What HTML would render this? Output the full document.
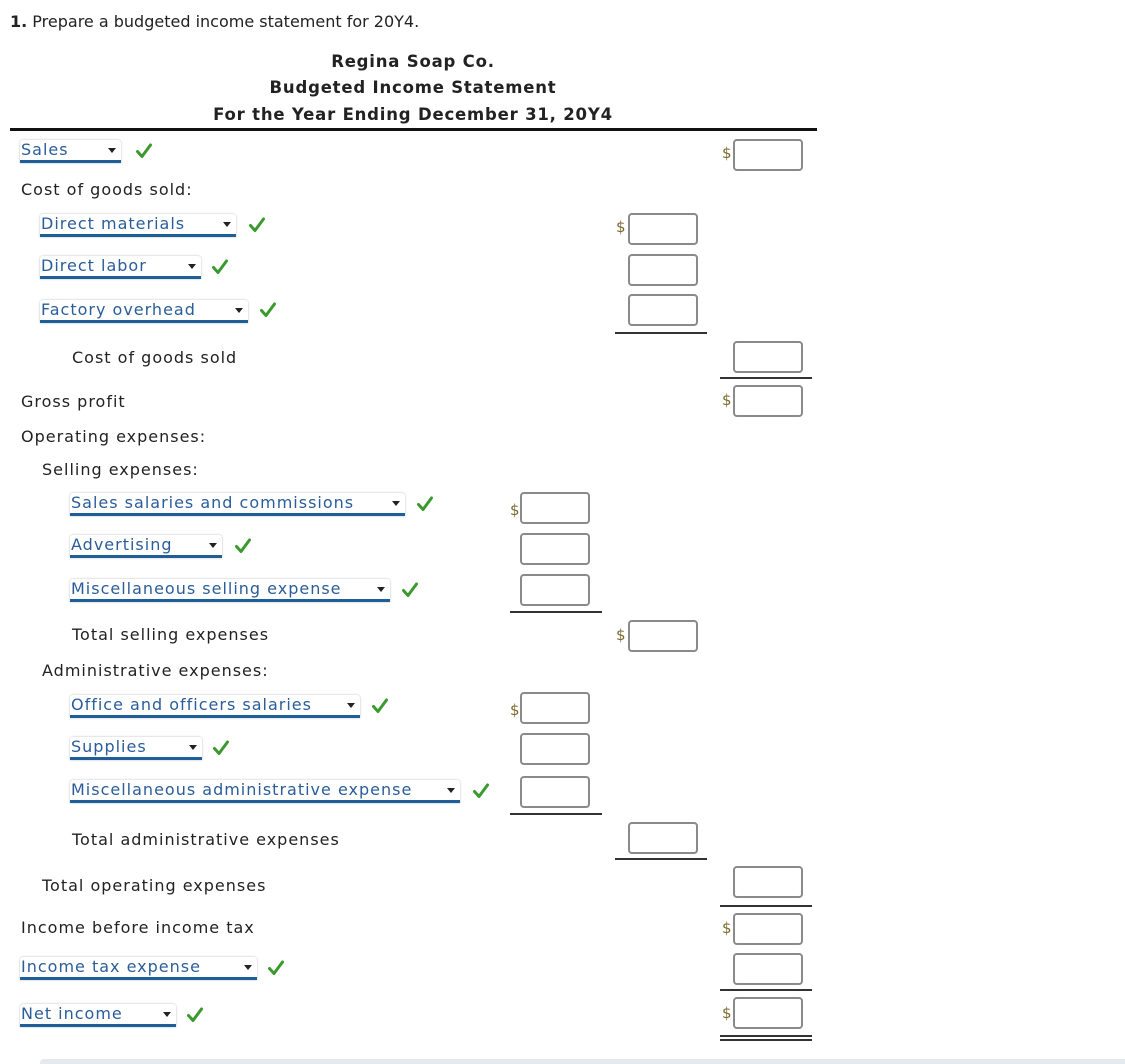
<!DOCTYPE html>
<html><head><meta charset="utf-8"><style>
body{margin:0;width:1125px;height:1064px;background:#fff;position:relative;overflow:hidden;font-family:"DejaVu Sans","Liberation Sans",sans-serif;font-size:16px;color:#222}
.a{position:absolute;white-space:nowrap;line-height:20px;letter-spacing:1px}
.h{position:absolute;left:0;width:826px;text-align:center;font-weight:bold;font-size:16.5px;line-height:20px;letter-spacing:0.8px}
.dd{position:absolute;height:20px;border-bottom:3px solid #1f5f98;border-radius:3px 3px 0 0;box-shadow:0 0 2px #bbb;color:#2a5d99;line-height:20px;white-space:nowrap;padding-left:1px;letter-spacing:1px}
.dd:after{content:"";position:absolute;right:5px;top:8px;border-left:4px solid transparent;border-right:4px solid transparent;border-top:5px solid #222}
.ck{position:absolute;width:16px;height:16px}
.b{position:absolute;width:66px;height:28px;border:2px solid #8a8a8a;border-radius:4px;background:#fff}
.d{position:absolute;font-size:15px;color:#7a6a30;line-height:20px}
.l{position:absolute;height:2px;background:#333}
</style></head><body>
<svg width="0" height="0" style="position:absolute"><defs><symbol id="c" viewBox="0 0 16 16"><path d="M1.5 8.5 L6 13.5 L14.5 2" fill="none" stroke="#3a9a2e" stroke-width="3" stroke-linecap="round" stroke-linejoin="round"/></symbol></defs></svg>
<div class="a" style="left:10px;top:12px;font-size:16px;letter-spacing:0"><b>1.</b> Prepare a budgeted income statement for 20Y4.</div>
<div class="h" style="top:52px">Regina Soap Co.</div>
<div class="h" style="top:78px">Budgeted Income Statement</div>
<div class="h" style="top:105px">For the Year Ending December 31, 20Y4</div>
<div class="l" style="left:10px;top:128px;width:807px;height:3px;background:#111"></div>

<div class="dd" style="left:20px;top:140px;width:100px">Sales</div><svg class="ck" style="left:136px;top:143px"><use href="#c"/></svg>
<div class="d" style="left:722px;top:143px">$</div><div class="b" style="left:733px;top:139px"></div>

<div class="a" style="left:21px;top:180px">Cost of goods sold:</div>
<div class="dd" style="left:40px;top:214px;width:195px">Direct materials</div><svg class="ck" style="left:249px;top:217px"><use href="#c"/></svg>
<div class="d" style="left:616px;top:217px">$</div><div class="b" style="left:628px;top:213px"></div>
<div class="dd" style="left:40px;top:256px;width:160px">Direct labor</div><svg class="ck" style="left:212px;top:259px"><use href="#c"/></svg>
<div class="b" style="left:628px;top:254px"></div>
<div class="dd" style="left:40px;top:300px;width:207px">Factory overhead</div><svg class="ck" style="left:260px;top:302px"><use href="#c"/></svg>
<div class="b" style="left:628px;top:294px"></div>
<div class="l" style="left:615px;top:332px;width:92px"></div>

<div class="a" style="left:72px;top:348px">Cost of goods sold</div>
<div class="b" style="left:733px;top:341px"></div>
<div class="l" style="left:720px;top:377px;width:92px"></div>
<div class="a" style="left:21px;top:392px">Gross profit</div>
<div class="d" style="left:722px;top:390px">$</div><div class="b" style="left:733px;top:385px"></div>
<div class="a" style="left:21px;top:427px">Operating expenses:</div>
<div class="a" style="left:42px;top:460px">Selling expenses:</div>

<div class="dd" style="left:70px;top:493px;width:334px">Sales salaries and commissions</div><svg class="ck" style="left:417px;top:496px"><use href="#c"/></svg>
<div class="d" style="left:510px;top:500px">$</div><div class="b" style="left:520px;top:492px"></div>
<div class="dd" style="left:70px;top:535px;width:151px">Advertising</div><svg class="ck" style="left:235px;top:538px"><use href="#c"/></svg>
<div class="b" style="left:520px;top:533px"></div>
<div class="dd" style="left:70px;top:579px;width:319px">Miscellaneous selling expense</div><svg class="ck" style="left:402px;top:582px"><use href="#c"/></svg>
<div class="b" style="left:520px;top:574px"></div>
<div class="l" style="left:510px;top:611px;width:92px"></div>
<div class="a" style="left:72px;top:625px">Total selling expenses</div>
<div class="d" style="left:616px;top:625px">$</div><div class="b" style="left:628px;top:620px"></div>
<div class="a" style="left:42px;top:661px">Administrative expenses:</div>

<div class="dd" style="left:70px;top:695px;width:289px">Office and officers salaries</div><svg class="ck" style="left:372px;top:698px"><use href="#c"/></svg>
<div class="d" style="left:510px;top:700px">$</div><div class="b" style="left:520px;top:692px"></div>
<div class="dd" style="left:70px;top:737px;width:131px">Supplies</div><svg class="ck" style="left:213px;top:740px"><use href="#c"/></svg>
<div class="b" style="left:520px;top:733px"></div>
<div class="dd" style="left:70px;top:780px;width:389px">Miscellaneous administrative expense</div><svg class="ck" style="left:473px;top:783px"><use href="#c"/></svg>
<div class="b" style="left:520px;top:776px"></div>
<div class="l" style="left:510px;top:813px;width:92px"></div>
<div class="a" style="left:72px;top:830px">Total administrative expenses</div>
<div class="b" style="left:628px;top:822px"></div>
<div class="l" style="left:615px;top:858px;width:92px"></div>
<div class="a" style="left:42px;top:876px">Total operating expenses</div>
<div class="b" style="left:733px;top:866px"></div>
<div class="l" style="left:720px;top:905px;width:92px"></div>
<div class="a" style="left:21px;top:918px">Income before income tax</div>
<div class="d" style="left:722px;top:918px">$</div><div class="b" style="left:733px;top:913px"></div>
<div class="dd" style="left:20px;top:957px;width:236px">Income tax expense</div><svg class="ck" style="left:268px;top:960px"><use href="#c"/></svg>
<div class="b" style="left:733px;top:953px"></div>
<div class="l" style="left:720px;top:989px;width:92px"></div>
<div class="dd" style="left:20px;top:1004px;width:155px">Net income</div><svg class="ck" style="left:187px;top:1007px"><use href="#c"/></svg>
<div class="d" style="left:722px;top:1003px">$</div><div class="b" style="left:733px;top:997px"></div>
<div class="l" style="left:720px;top:1035px;width:92px"></div>
<div class="l" style="left:720px;top:1039px;width:92px"></div>
<div style="position:absolute;left:40px;top:1059px;width:1085px;height:5px;background:#e4e9ed;border-radius:4px 0 0 0"></div>
</body></html>
